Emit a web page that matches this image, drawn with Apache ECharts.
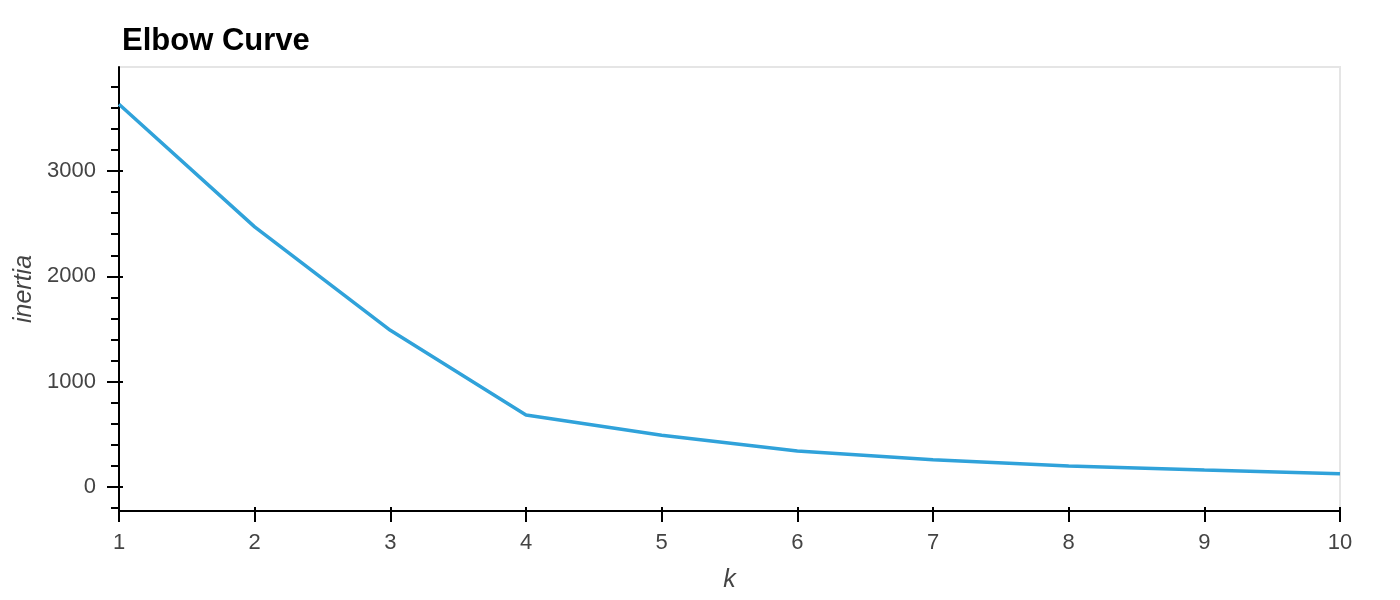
<!DOCTYPE html>
<html>
<head>
<meta charset="utf-8">
<title>Elbow Curve</title>
<script src="https://cdn.jsdelivr.net/npm/echarts@6/dist/echarts.min.js"></script>
<style>
html, body { margin: 0; padding: 0; background: #fff; }
#chart { width: 1400px; height: 600px; }
</style>
</head>
<body>
<div id="chart"></div>
<script>
// data
var kValues = [1, 2, 3, 4, 5, 6, 7, 8, 9, 10]
var inertia = [3634, 2470, 1488, 684, 491, 342, 258, 199, 161, 126]
// tick labels
var yMajorTicks = [0, 1000, 2000, 3000]
var yMinorTicks = [-200, 200, 400, 600, 800, 1200, 1400, 1600, 1800,
  2200, 2400, 2600, 2800, 3200, 3400, 3600, 3800]

var yMin = -228
var yMax = 3988
var font = '"Liberation Sans", Arial, Helvetica, sans-serif'

var chart = echarts.init(document.getElementById('chart'))

chart.setOption({
  animation: false,
  title: {
    text: 'Elbow Curve',
    left: 117,
    top: 21,
    textStyle: {
      fontFamily: font,
      fontSize: 31,
      fontWeight: 'bold',
      color: '#000'
    }
  },
  grid: {
    left: 119,
    right: 60,
    top: 67,
    bottom: 89,
    outerBoundsMode: 'none',
    containLabel: false,
    show: true,
    borderColor: '#e5e5e5',
    borderWidth: 2
  },
  xAxis: [
    {
      type: 'value',
      min: 1,
      max: 10,
      interval: 1,
      position: 'bottom',
      name: 'k',
      nameLocation: 'middle',
      nameGap: 57,
      nameTextStyle: {
        fontFamily: font,
        fontSize: 25,
        fontStyle: 'italic',
        color: '#444'
      },
      splitLine: { show: false },
      axisLine: { onZero: false, lineStyle: { color: '#000', width: 2 } },
      axisTick: { length: 11, lineStyle: { color: '#000', width: 2 } },
      axisLabel: {
        margin: 21,
        fontFamily: font,
        fontSize: 22,
        color: '#444',
        formatter: function (v) { return String(v) }
      }
    },
    {
      // inner part of the x ticks
      type: 'value',
      min: 1,
      max: 10,
      interval: 1,
      position: 'bottom',
      splitLine: { show: false },
      axisLine: { show: false, onZero: false },
      axisTick: { inside: true, length: 4, lineStyle: { color: '#000', width: 2 } },
      axisLabel: { show: false }
    }
  ],
  yAxis: [
    {
      type: 'value',
      min: yMin,
      max: yMax,
      position: 'left',
      name: 'inertia',
      nameLocation: 'middle',
      nameGap: 82,
      nameTextStyle: {
        fontFamily: font,
        fontSize: 25,
        fontStyle: 'italic',
        color: '#444'
      },
      splitLine: { show: false },
      axisLine: { show: true, onZero: false, lineStyle: { color: '#000', width: 2 } },
      axisTick: {
        show: true,
        length: 12,
        customValues: yMajorTicks,
        lineStyle: { color: '#000', width: 2 }
      },
      axisLabel: {
        margin: 23,
        customValues: yMajorTicks,
        fontFamily: font,
        fontSize: 22,
        color: '#444',
        formatter: function (v) { return String(v) }
      }
    },
    {
      // minor ticks
      type: 'value',
      min: yMin,
      max: yMax,
      position: 'left',
      splitLine: { show: false },
      axisLine: { show: false, onZero: false },
      axisTick: {
        show: true,
        length: 8,
        customValues: yMinorTicks,
        lineStyle: { color: '#000', width: 2 }
      },
      axisLabel: { show: false }
    },
    {
      // inner part of the major ticks
      type: 'value',
      min: yMin,
      max: yMax,
      position: 'left',
      splitLine: { show: false },
      axisLine: { show: false, onZero: false },
      axisTick: {
        show: true,
        inside: true,
        length: 4,
        customValues: yMajorTicks,
        lineStyle: { color: '#000', width: 2 }
      },
      axisLabel: { show: false }
    }
  ],
  series: [
    {
      type: 'line',
      xAxisIndex: 0,
      yAxisIndex: 0,
      data: kValues.map(function (k, i) { return [k, inertia[i]] }),
      showSymbol: false,
      symbol: 'none',
      lineStyle: { color: '#30a2da', width: 3.5 },
      z: 5
    }
  ]
})
</script>
</body>
</html>
